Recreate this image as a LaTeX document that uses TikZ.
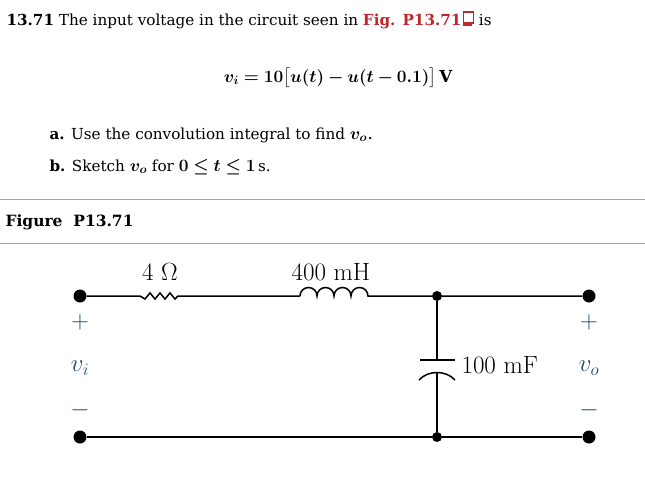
\documentclass[tikz,border=0pt]{standalone}
\usepackage{amsmath,amssymb,bm}
\usepackage{fontspec}
\setmainfont{DejaVu Serif}
\newfontfamily\lmr{Latin Modern Roman}
\definecolor{figred}{HTML}{C0272D}
\definecolor{lblue}{HTML}{1F4A6E}
\begin{document}
\begin{tikzpicture}[x=1pt,y=-1pt,
  wire/.style={line width=1.5pt},
  term/.style={circle,fill=black,inner sep=0pt,minimum size=13pt},
  dotj/.style={circle,fill=black,inner sep=0pt,minimum size=10pt},
  tl/.style={text=lblue,font=\lmr\fontsize{23}{23}\selectfont},
  cl/.style={font=\lmr\fontsize{25}{25}\selectfont},
  body/.style={anchor=west,font=\fontsize{15.2}{17}\selectfont}]
\useasboundingbox (0,0) rectangle (645,493);
\node[body] (t1) at (3,20) {\textbf{13.71} The input voltage in the circuit seen in \textcolor{figred}{\textbf{Fig. P13.71}}\hspace{1pt}\tikz[baseline=0]{\draw[figred,line width=1.6pt](0,3pt) rectangle (10pt,14pt);\draw[figred,line width=1.6pt](0,0)--(0,14pt);\draw[figred,line width=1.6pt](0,1pt)--(9pt,1pt);} is};
\node (eq) at (338,78) {\fontsize{16.5}{18}\selectfont$\bm{v_i = 10\big[u(t) - u(t-0.1)\big]\,\mathrm{V}}$};
\node[body] (a) at (46,135) {\textbf{a.} Use the convolution integral to find \fontsize{18}{18}\selectfont$\bm{v_o}$.};
\node[body] (b) at (46,167) {\textbf{b.} Sketch {\fontsize{18}{18}\selectfont$\bm{v_o}$} for {\fontsize{18}{18}\selectfont$\bm{0\le t\le 1}$}\,s.};
\draw[gray!70] (0,199) -- (645,199);
\node[body,font=\fontsize{15.5}{17}\selectfont\bfseries] (fig) at (2,222) {Figure\ \ P13.71};
\draw[gray!70] (0,243) -- (645,243);
% circuit
\node[term] (A) at (80,296) {};
\node[term] (B) at (80,437) {};
\node[term] (C) at (589,296) {};
\node[term] (D) at (589,437) {};
\node[dotj] (J1) at (437,296) {};
\node[dotj] (J2) at (437,437) {};
\coordinate (r1) at (140,296); \coordinate (r2) at (178,296);
\coordinate (l1) at (300,296); \coordinate (l2) at (368,296);
\coordinate (c1) at (437,360); \coordinate (c2) at (437,373);
\draw[wire] (A) -- (r1) -- ++(5,3) -- ++(5,-6) -- ++(5,6) -- ++(5,-6) -- ++(5,6) -- ++(5,-6) -- ++(5,6) -- (r2) -- (l1);
\draw[wire] (l1) arc(180:360:8.5) arc(180:360:8.5) arc(180:360:8.5) arc(180:360:8.5) -- (J1) -- (C);
\draw[wire] (B) -- (J2) -- (D);
\draw[wire] (J1) -- (c1); \draw[wire] (420,360) -- (455,360);
\draw[wire] (J2) -- (c2); \draw[wire] (419,380) .. controls (428,370) and (446,370) .. (455,380);
\node[cl] (lr) at (160,272) {4 $\Omega$};
\node[cl] (ll) at (331,272) {400 mH};
\node[cl,anchor=west] (lc) at (458,365) {100 mF};
\node[tl] (p1) at (80,322) {$+$};
\node[tl] (v1) at (80,368) {$v_i$};
\node[tl] (m1) at (80,410) {$-$};
\node[tl] (p2) at (589,322) {$+$};
\node[tl] (v2) at (589,368) {$v_o$};
\node[tl] (m2) at (589,410) {$-$};
\end{tikzpicture}
\end{document}
